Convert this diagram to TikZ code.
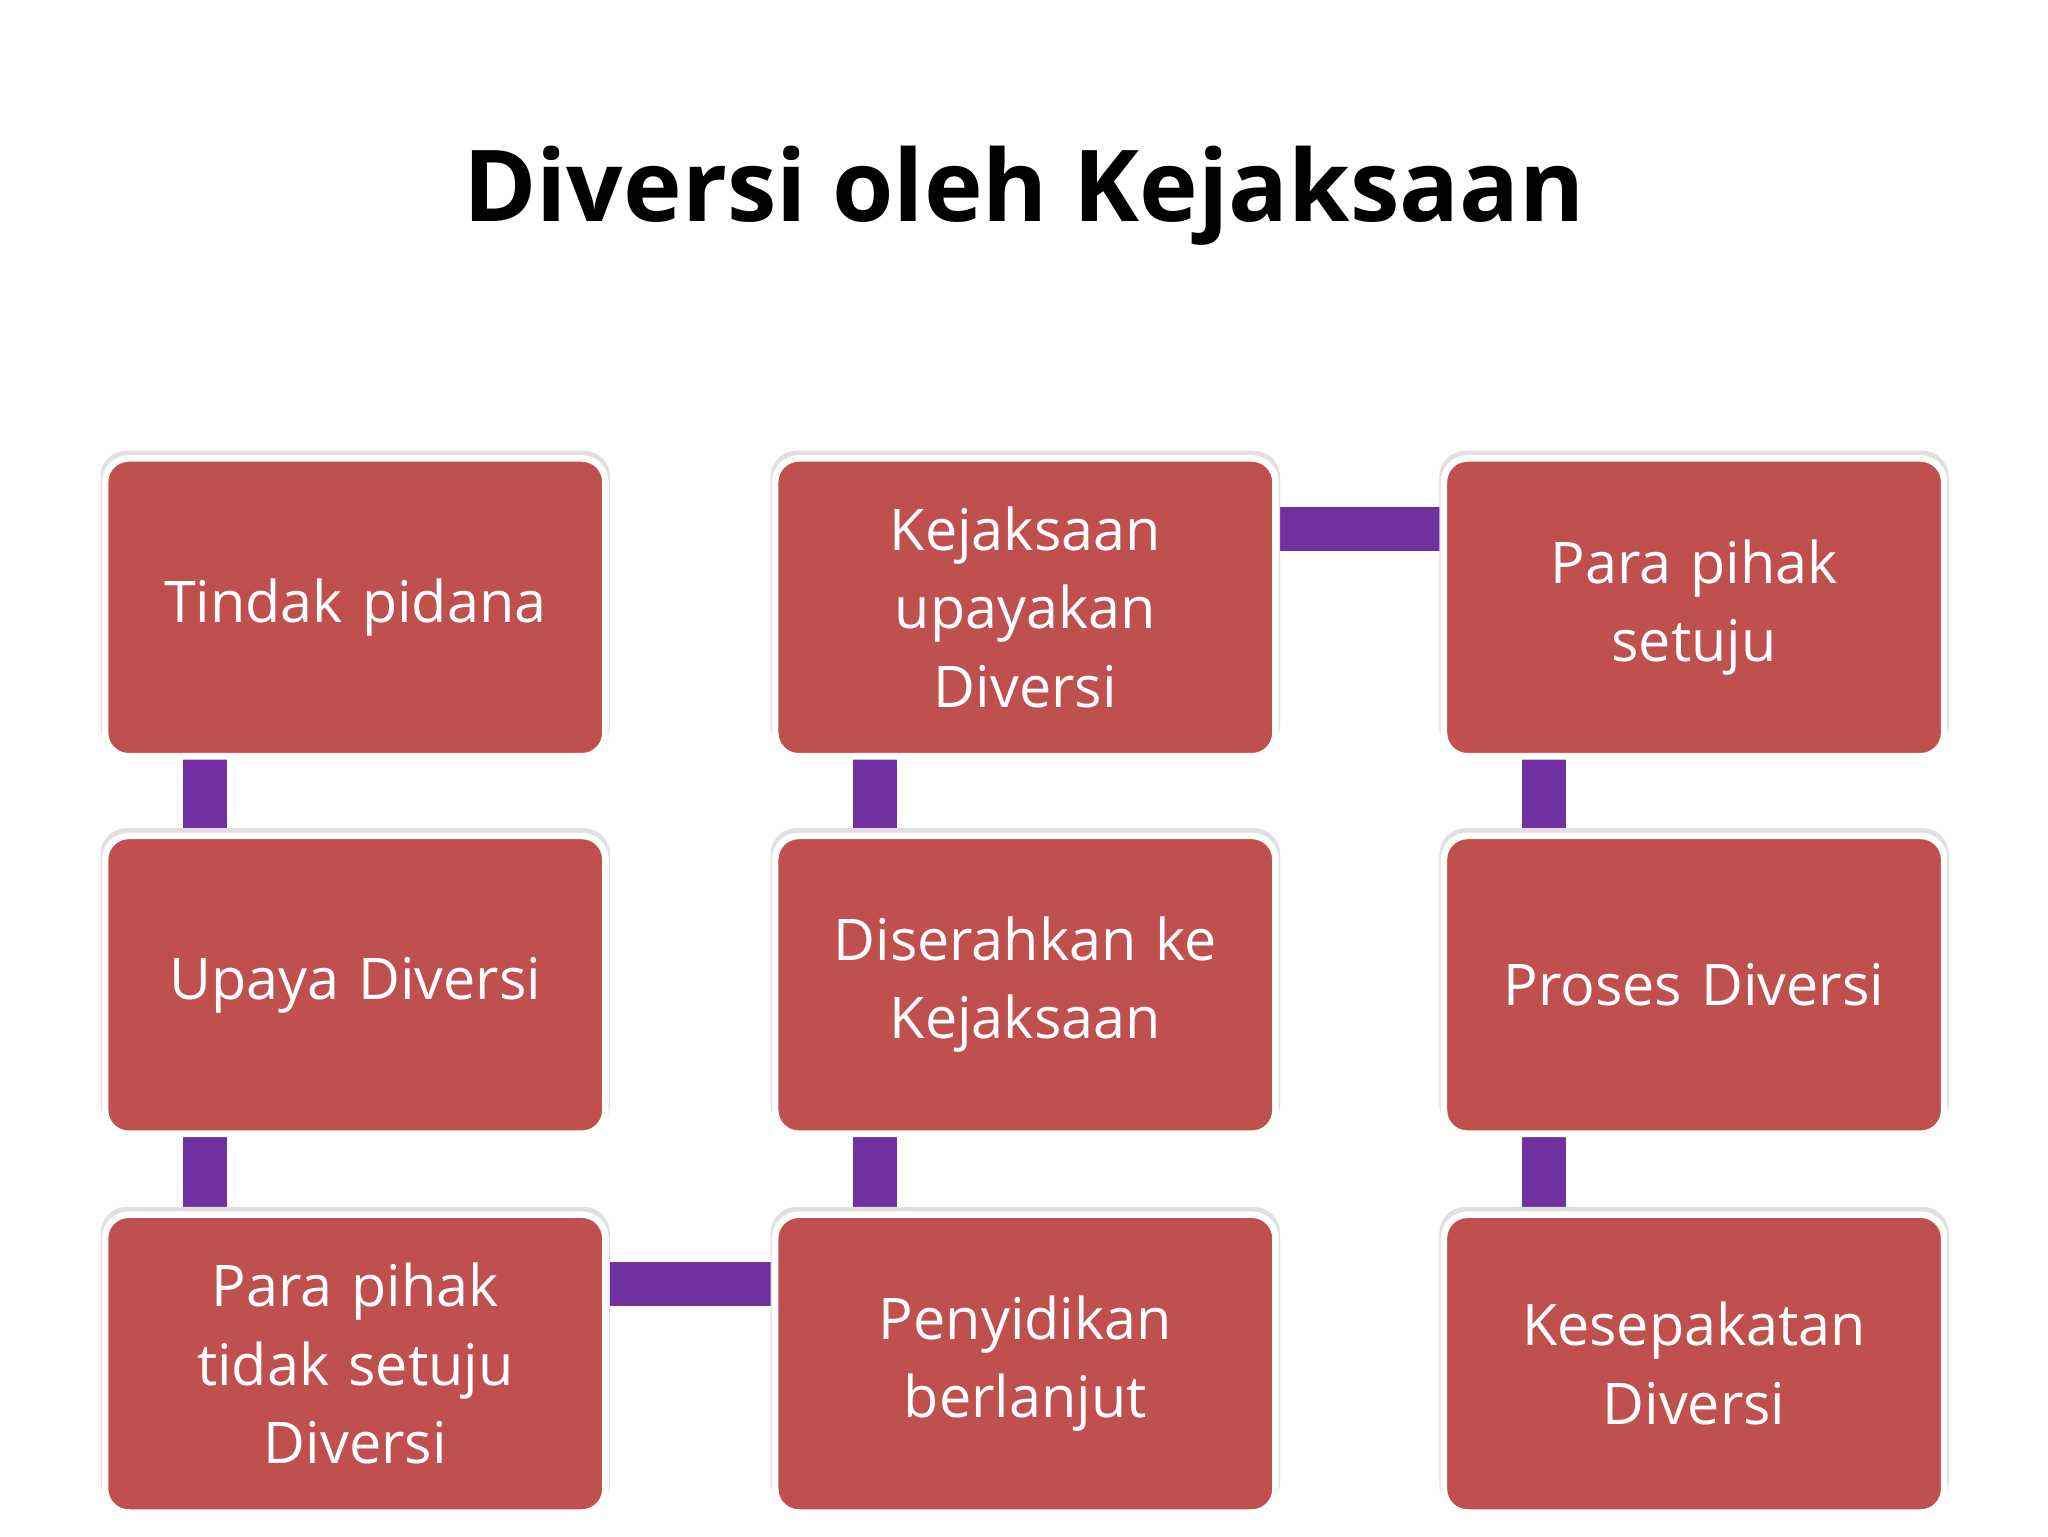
\documentclass[tikz,border=0pt]{standalone}
\usepackage{fontspec}
\setmainfont{Open Sans}
\begin{document}
\begin{tikzpicture}[x=1pt,y=-1pt,
  box/.style={draw=white,line width=5pt,fill=boxred,rounded corners=18pt,minimum width=383pt,minimum height=228pt,text=white,align=center,font=\fontsize{44}{60}\selectfont,inner sep=0pt,text width=370pt},
  link/.style={draw=linkpurple,line width=34pt}]
\definecolor{boxred}{HTML}{C0504D}
\definecolor{linkpurple}{HTML}{7030A0}
\fill[white] (0,0) rectangle (1568,1176);
\node[font=\bfseries\fontsize{76}{90}\selectfont] (title) at (784,150) {Diversi oleh Kejaksaan};
\foreach \n/\x/\y in {a/272/465, b/272/754, c/272/1044, d/785/1044, e/785/754, f/785/465, g/1297/465, h/1297/754, i/1297/1044}
 {\coordinate (\n) at (\x,\y);}
\draw[link] ([xshift=-115pt]a) -- ([xshift=-115pt]b) -- ([xshift=-115pt]c);
\draw[link] ([xshift=-115pt]f) -- ([xshift=-115pt]e) -- ([xshift=-115pt]d);
\draw[link] ([xshift=-115pt]g) -- ([xshift=-115pt]h) -- ([xshift=-115pt]i);
\draw[link] ([yshift=60pt]f) -- ([yshift=60pt]g);
\draw[link] ([yshift=61pt]c) -- ([yshift=61pt]d);
\foreach \n/\t in {a/{Tindak pidana},b/{Upaya Diversi},c/{Para pihak\\tidak setuju\\Diversi},d/{Penyidikan\\berlanjut},e/{Diserahkan ke\\Kejaksaan},f/{Kejaksaan\\upayakan\\Diversi},g/{Para pihak\\setuju},h/{Proses Diversi},i/{Kesepakatan\\Diversi}}
{\fill[black!12,rounded corners=20pt] ([xshift=-195pt,yshift=-112pt]\n) rectangle ([xshift=195pt,yshift=120pt]\n);
 \node[box] (\n box) at (\n) {\t};}
\end{tikzpicture}
\end{document}
